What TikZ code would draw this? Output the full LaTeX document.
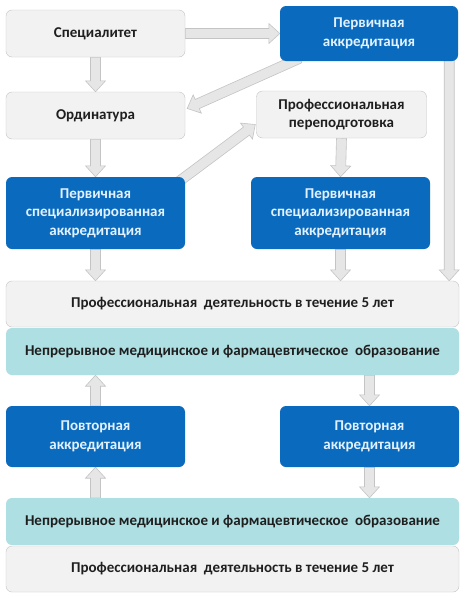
\documentclass[tikz,border=0pt]{standalone}
\usepackage{fontspec}
\setmainfont{Carlito}
\usetikzlibrary{calc}
\definecolor{boxblue}{HTML}{0A6BBE}
\definecolor{boxgray}{HTML}{F2F2F2}
\definecolor{edgegray}{HTML}{C4C4C4}
\definecolor{boxteal}{HTML}{AEDFE3}
\definecolor{txtblue}{HTML}{E2F1FF}
\definecolor{arrowfill}{HTML}{E6E6E6}
\definecolor{arrowedge}{HTML}{C4C4C4}
\pgfdeclarelayer{bg}
\pgfsetlayers{bg,main}
\tikzset{
  box/.style={rounded corners=6pt,align=center,inner sep=0pt,font=\fontsize{15}{18.5}\selectfont\bfseries},
  graybox/.style={box,fill=boxgray,draw=edgegray,text=black!88},
  bluebox/.style={box,fill=boxblue,text=txtblue},
  tealbox/.style={box,fill=boxteal,text=black!88},
  small/.style={minimum width=179pt},
  wide/.style={minimum width=453pt,minimum height=47pt}
}
% wide grey block arrow from #1 to #2
\newcommand{\blkarrow}[2]{%
  \path[draw=arrowedge,fill=arrowfill,line width=0.6pt] let \p1=(#1),\p2=(#2),
    \n1={atan2(\y2-\y1,\x2-\x1)},\n2={veclen(\x2-\x1,\y2-\y1)} in
    [shift={(\p1)},rotate=\n1] (0pt,-5pt) -- ({\n2-11pt},-5pt) -- ({\n2-11pt},-10pt)
    -- (\n2,0pt) -- ({\n2-11pt},10pt) -- ({\n2-11pt},5pt) -- (0pt,5pt) -- cycle;}
\begin{document}
\begin{tikzpicture}[x=1pt,y=-1pt]
\node[graybox,small,minimum height=47pt] (spec) at (95.5,33.5) {Специалитет};
\node[bluebox,minimum width=178pt,minimum height=55pt] (perv) at (369,33.5) {Первичная\\аккредитация};
\node[graybox,small,minimum height=47pt] (ord) at (95.5,115.5) {Ординатура};
\node[graybox,minimum width=170pt,minimum height=47pt] (pp) at (341.5,114.5) {Профессиональная\\переподготовка};
\node[bluebox,small,minimum height=72pt] (psa1) at (95.5,213) {Первичная\\специализированная\\аккредитация};
\node[bluebox,small,minimum height=72pt] (psa2) at (340.5,213) {Первичная\\специализированная\\аккредитация};
\node[graybox,wide,minimum height=46pt] (pd1) at (232.5,304) {Профессиональная\ \ деятельность в течение 5 лет};
\node[tealbox,wide] (nmo1) at (232.5,351.5) {Непрерывное медицинское и фармацевтическое\ \ образование};
\node[bluebox,small,minimum height=61pt] (rep1) at (95.5,436.5) {Повторная\\аккредитация};
\node[bluebox,small,minimum height=61pt] (rep2) at (369.5,436.5) {Повторная\\аккредитация};
\node[tealbox,wide] (nmo2) at (232.5,521.5) {Непрерывное медицинское и фармацевтическое\ \ образование};
\node[graybox,wide,minimum height=46pt] (pd2) at (232.5,569) {Профессиональная\ \ деятельность в течение 5 лет};
\coordinate (r1) at ($(perv.south east)+(-9,-2)$);
\coordinate (d1) at ($(perv.south west)+(20,-3)$);
\coordinate (d2) at ($(psa1.north east)+(-8,6)$);
\coordinate (t1) at ($(ord.east)+(2,-7)$);
\coordinate (t2) at ($(pp.west)+(-1,10)$);
\begin{pgfonlayer}{bg}
\fill[white] (0,0) rectangle (465,600);
\foreach \a/\b in {spec.east/perv.west,spec.south/ord.north,d1/t1,ord.south/psa1.north,
  d2/t2,pp.south/psa2.north,r1/r1 |- pd1.north,psa1.south/psa1.south |- pd1.north,
  psa2.south/psa2.south |- pd1.north,rep1.north/rep1.north |- nmo1.south,
  rep2.north |- nmo1.south/rep2.north,rep1.south |- nmo2.north/rep1.south,rep2.south/rep2.south |- nmo2.north}
  \blkarrow{\a}{\b};
\end{pgfonlayer}
\end{tikzpicture}
\end{document}
